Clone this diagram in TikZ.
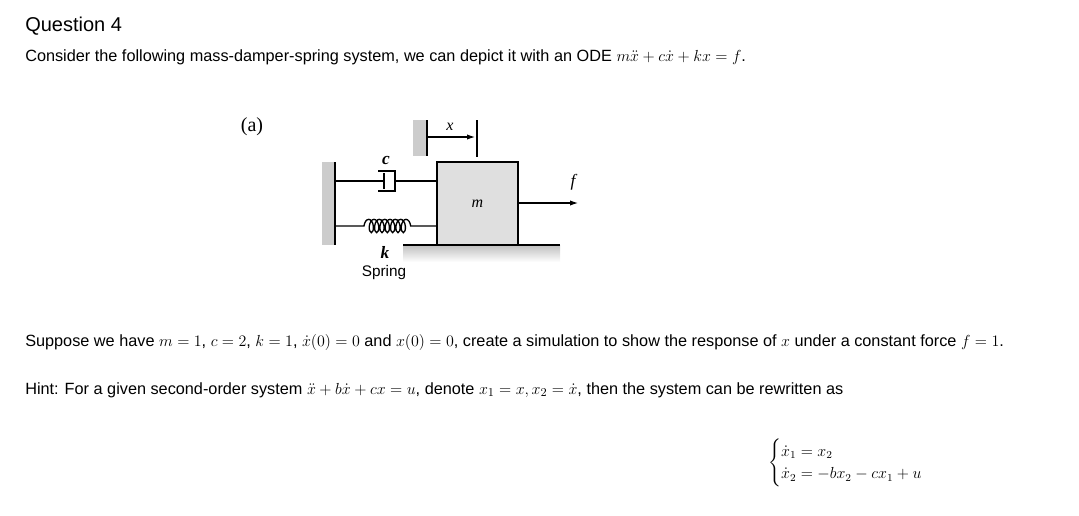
\documentclass[tikz,border=0pt]{standalone}
\usepackage{amsmath}
\usepackage{fontspec}
\setmainfont{Liberation Sans}
\newfontfamily\serif{Liberation Serif}
\usetikzlibrary{arrows.meta,decorations.pathmorphing}
\begin{document}
\begin{tikzpicture}[x=0.75pt,y=-0.75pt,
  txt/.style={anchor=west,inner sep=0,font=\fontsize{12.2}{14}\selectfont},
  lbl/.style={font=\fontsize{12}{14}\selectfont\serif\itshape},
  wallfill/.style={fill=gray!40,draw=none},
  ln/.style={line width=0.8pt},
  arr/.style={ln,-{Latex[length=6pt,width=4pt]}}]
\useasboundingbox (0,0) rectangle (1079,515);
\node[txt,font=\fontsize{15}{17}\selectfont] (q) at (25,26) {Question 4};
\node[txt] (l1) at (25,57) {Consider the following mass-damper-spring system, we can depict it with an ODE $m\ddot{x}+c\dot{x}+kx=f$.};
\node[font=\fontsize{15}{17}\selectfont\serif] (a) at (252,127) {(a)};
\shade[top color=gray!50,bottom color=white] (403,245) rectangle (560,262);
\fill[wallfill] (322,162) rectangle (335,245);
\draw[ln] (335,162) -- (335,245);
\draw[ln] (403,245) -- (560,245);
\node[draw,line width=0.8pt,fill=gray!25,minimum width=81*0.75pt,minimum height=83*0.75pt,inner sep=0,lbl] (m) at (477.5,203.5) {m};
\draw[ln] (335,181) -- (384,181);
\draw[ln] (384,173) -- (384,189);
\draw[ln] (378,171) -- (395,171) -- (395,191) -- (378,191);
\draw[ln] (395,181) -- (m.west |- 0,181);
\node[lbl,font=\fontsize{13}{14}\selectfont\serif\itshape\bfseries] (c) at (386,160) {c};
\draw[line width=1pt] (335,226) -- (364,226) decorate[decoration={coil,aspect=0.5,segment length=4pt,amplitude=5pt}]{ -- (411,226)} -- (m.west |- 0,226);
\node[lbl,font=\fontsize{13}{14}\selectfont\serif\itshape\bfseries] (k) at (385,252) {k};
\node[font=\fontsize{11.5}{12}\selectfont] (sp) at (384,273) {Spring};
\draw[arr] (m.east |- 0,203) -- (578,203);
\node[lbl,font=\fontsize{13}{14}\selectfont\serif\itshape] (f) at (573,182) {f};
\fill[wallfill] (413,120) rectangle (426,156);
\draw[ln] (427,120) -- (427,156);
\draw[ln] (477,120) -- (477,157);
\draw[arr] (427,137) -- (475,137);
\node[lbl] (x) at (450,127) {x};
\node[txt] (l2) at (25,342) {Suppose we have $m=1$, $c=2$, $k=1$, $\dot{x}(0)=0$ and $x(0)=0$, create a simulation to show the response of $x$ under a constant force $f=1$.};
\node[txt] (l3) at (25,390) {Hint: For a given second-order system $\ddot{x}+b\dot{x}+cx=u$, denote $x_1=x, x_2=\dot{x}$, then the system can be rewritten as};
\node[anchor=west,inner sep=0,font=\fontsize{12}{14}\selectfont] (sys) at (768,463) {$\begin{cases}\dot{x}_1=x_2\\ \dot{x}_2=-bx_2-cx_1+u\end{cases}$};
\end{tikzpicture}
\end{document}
